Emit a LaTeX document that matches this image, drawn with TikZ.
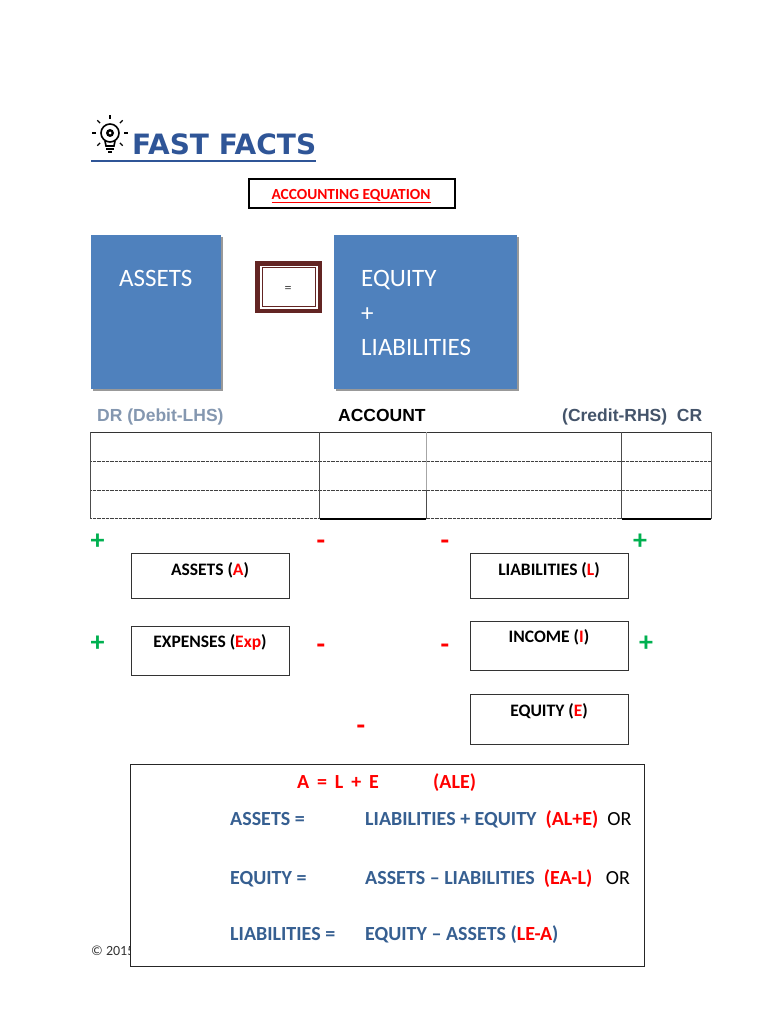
\documentclass[tikz,border=0pt]{standalone}
\usepackage{fontspec}
\usetikzlibrary{calc}
\setmainfont{Carlito}
\newfontfamily\arialf{Liberation Sans}
\newfontfamily\factf{DejaVu Sans}
\definecolor{bluebox}{HTML}{4F81BD}
\definecolor{navytxt}{HTML}{365F91}
\definecolor{factblue}{HTML}{2F5597}
\definecolor{framered}{HTML}{632523}
\definecolor{plusgreen}{HTML}{00B050}
\definecolor{drgrey}{HTML}{8497B0}
\definecolor{crgrey}{HTML}{44546A}
\tikzset{
  x=1pt,y=-1pt,
  bigbox/.style={fill=bluebox,inner sep=0pt,anchor=north west},
  shadowbox/.style={fill=black!40,inner sep=0pt,anchor=north west},
  accbox/.style={draw=black!80,line width=0.8pt,fill=white,inner sep=0pt,anchor=north west,minimum width=158pt},
  acctext/.style={font=\bfseries\fontsize{17.5}{19}\selectfont,text=black,anchor=center,inner sep=0pt},
  bigtext/.style={font=\fontsize{25}{29}\selectfont,text=white,anchor=base west,inner sep=0pt},
  sign/.style={font=\bfseries\fontsize{28}{28}\selectfont,anchor=center,inner sep=0pt},
  formula/.style={font=\bfseries\fontsize{20}{24}\selectfont,text=navytxt,anchor=base west,inner sep=0pt},
  hdr/.style={font=\arialf\bfseries\fontsize{17.5}{20}\selectfont,anchor=base west,inner sep=0pt},
  tline/.style={black!75,line width=0.8pt,dash pattern=on 0.8pt off 0.5pt},
  tvert/.style={black!70,line width=0.8pt},
  tthick/.style={black,line width=1.6pt}
}
\newcommand{\rd}[1]{\textcolor{red}{#1}}
\begin{document}
\begin{tikzpicture}
\useasboundingbox (0,0) rectangle (768,1024);
\fill[white] (0,0) rectangle (768,1024);
% bulb icon
\coordinate (bulb) at (110,133);
\draw[black,line width=1.6pt] (bulb) circle (9);
\fill[black] (bulb) circle (4);
\fill[white] (bulb) circle (1.5);
\draw[black,line width=1.6pt] (105,141) -- (106,146) -- (114,146) -- (115,141);
\draw[black,line width=1.4pt] (106,149) -- (114,149);
\draw[black,line width=1.4pt] (108,152) -- (112,152);
\foreach \a in {0,45,135,180,225,270,315}{
  \draw[black,line width=1.4pt] ($(bulb)+(\a:14)$) -- ($(bulb)+(\a:18)$);
}
\node[font=\factf\bfseries\fontsize{28}{32}\selectfont,text=factblue,anchor=west,inner sep=0pt] (fast) at (132,144) {FAST FACTS};
\draw[factblue,line width=1.5pt] (91,161) -- (316,161);
% title
\node[draw=black,line width=2pt,fill=white,inner sep=0pt,minimum width=206pt,minimum height=29pt,anchor=north west] (title) at (247.5,178) {};
\node[font=\bfseries\fontsize{15.4}{17}\selectfont,text=red,inner sep=0pt] (titletext) at (351,196) {\underline{ACCOUNTING EQUATION}};
% big boxes
\node[shadowbox,minimum width=130pt,minimum height=154pt] (assetshadow) at (92.5,236.5) {};
\node[bigbox,minimum width=130pt,minimum height=154pt] (assets) at (90.5,235) {};
\node[bigtext] (assetstext) at (119,286) {ASSETS};
\node[shadowbox,minimum width=183pt,minimum height=154pt] (eqshadow) at (336,236.5) {};
\node[bigbox,minimum width=183pt,minimum height=154pt] (equity) at (334,235) {};
\node[bigtext] (eq1) at (361,286) {EQUITY};
\node[bigtext] (eq2) at (361,321) {+};
\node[bigtext] (eq3) at (361,355) {LIABILITIES};
% equals frame
\node[draw=framered,line width=4.5pt,fill=white,inner sep=0pt,minimum width=62.5pt,minimum height=47.5pt,anchor=north west] (frame) at (255,261) {};
\node[draw=framered,line width=1pt,inner sep=0pt,minimum width=53pt,minimum height=39pt,anchor=north west] (frameinner) at (261.5,266.5) {};
\node[font=\fontsize{14}{16}\selectfont,text=black!75,inner sep=0pt] (equals) at (288,289) {=};
% header
\node[hdr,text=drgrey] (dr) at (97,421) {DR (Debit-LHS)};
\node[hdr,text=black] (acc) at (338,421) {ACCOUNT};
\node[hdr,text=crgrey] (cr) at (562,421) {(Credit-RHS)\ \ CR};
% T account table
\draw[black!80,line width=0.8pt] (90,432) -- (711,432);
\draw[tline] (90,461) -- (711,461);
\draw[tline] (90,490) -- (711,490);
\draw[tline] (90,518.5) -- (711,518.5);
\draw[tvert] (90,432) -- (90,518.5);
\draw[tvert] (319.7,432) -- (319.7,519);
\draw[black!35,line width=0.8pt] (426,432) -- (426,490);
\draw[tvert] (426,490) -- (426,519);
\draw[tvert] (621.7,432) -- (621.7,519);
\draw[tvert] (711,432) -- (711,519);
\draw[tthick] (319.7,519) -- (426,519);
\draw[tthick] (621.7,519) -- (711,519);
% signs
\node[sign,text=plusgreen] (p1) at (97.5,542) {+};
\node[sign,text=red] (m1) at (321,545) {-};
\node[sign,text=red] (m2) at (445,545) {-};
\node[sign,text=plusgreen] (p2) at (640,542) {+};
\node[sign,text=plusgreen] (p3) at (97.5,644) {+};
\node[sign,text=red] (m3) at (321,649) {-};
\node[sign,text=red] (m4) at (445,649) {-};
\node[sign,text=plusgreen] (p4) at (646,644) {+};
\node[sign,text=red] (m5) at (361,730) {-};
% account boxes
\node[accbox,minimum height=45.5pt] (a) at (130.5,552.5) {};
\node[acctext] at (210,570) {ASSETS (\rd{A})};
\node[accbox,minimum height=49.5pt] (x) at (130.5,625.5) {};
\node[acctext] at (210,642.5) {EXPENSES (\rd{Exp})};
\node[accbox,minimum height=45.5pt] (l) at (470,552.5) {};
\node[acctext] at (549,570) {LIABILITIES (\rd{L})};
\node[accbox,minimum height=49.5pt] (i) at (470,620.5) {};
\node[acctext] at (549,637) {INCOME (\rd{I})};
\node[accbox,minimum height=49.5pt] (e) at (470,694) {};
\node[acctext] at (549,711) {EQUITY (\rd{E})};
% copyright, partly covered by the box
\node[font=\fontsize{14}{16}\selectfont,text=black!80,anchor=west,inner sep=0pt] (copy) at (91,951) {© 2015};
% formula box
\node[draw=black!85,line width=0.9pt,fill=white,inner sep=0pt,minimum width=514.5pt,minimum height=201.5pt,anchor=north west] (fbox) at (129.5,764) {};
\node[font=\bfseries\fontsize{20}{24}\selectfont,text=red,anchor=base west,inner sep=0pt] at (297,788) {A\,\ =\,\ L\,\ +\,\ E};
\node[font=\bfseries\fontsize{20}{24}\selectfont,text=red,anchor=base west,inner sep=0pt] at (433,788) {(ALE)};
\node[formula] at (230,825) {ASSETS =};
\node[formula] at (365,825) {LIABILITIES + EQUITY\ \ \rd{(AL+E)}\ \ \textcolor{black}{\mdseries OR}};
\node[formula] at (230,884) {EQUITY =};
\node[formula] at (365,884) {ASSETS – LIABILITIES\ \ \rd{(EA-L)}\ \ \ \textcolor{black}{\mdseries OR}};
\node[formula] at (230,940) {LIABILITIES =};
\node[formula] at (365,940) {EQUITY – ASSETS (\rd{LE-A})};
\end{tikzpicture}
\end{document}
